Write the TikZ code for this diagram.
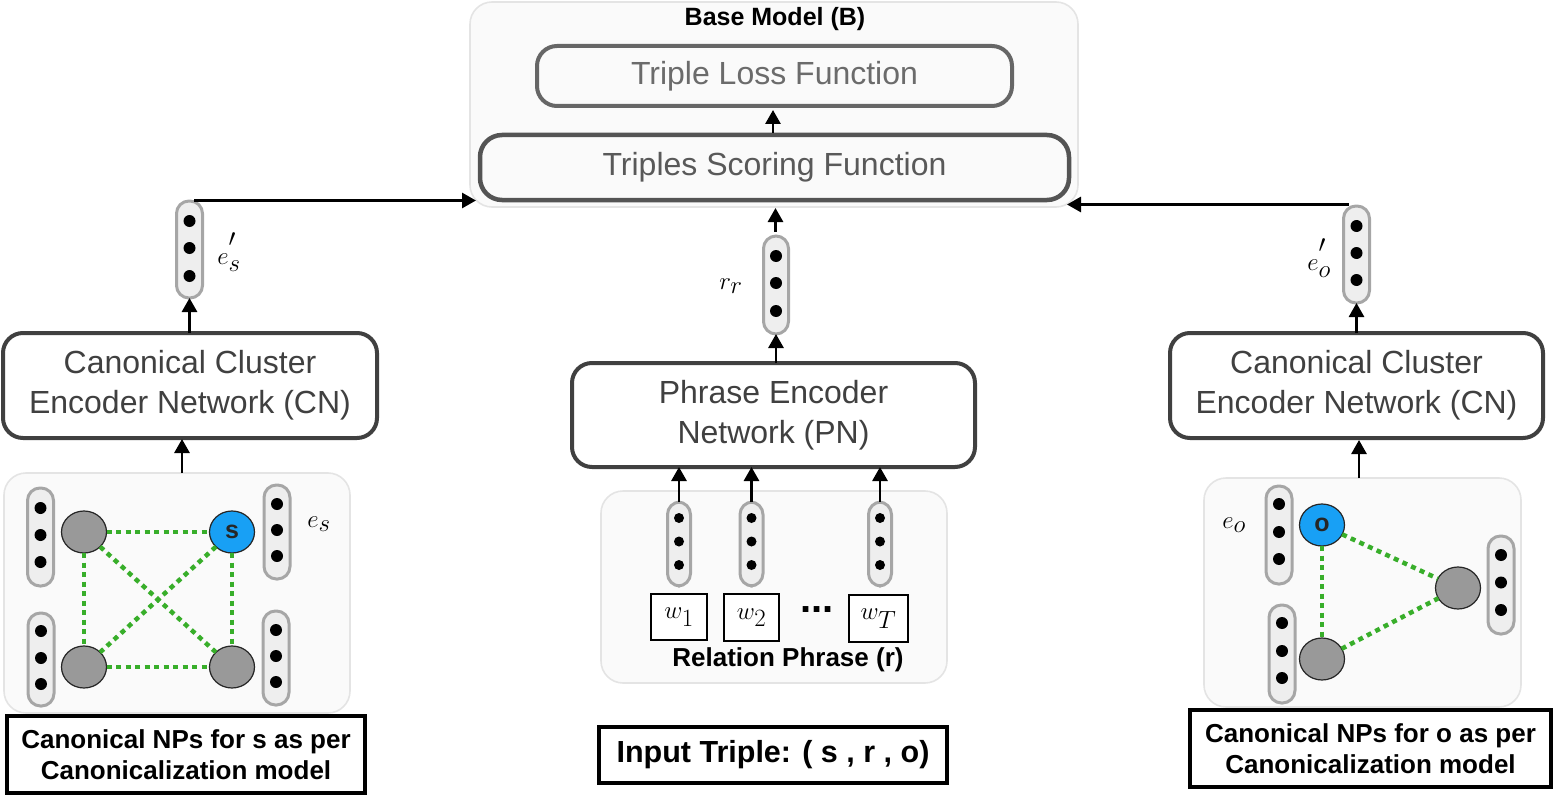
\documentclass[tikz,border=0pt]{standalone}
\usepackage{fontspec}
\setmainfont{Liberation Sans}
\usetikzlibrary{arrows.meta,shapes.geometric}
\definecolor{panelfill}{HTML}{FAFAFA}
\definecolor{paneledge}{HTML}{E4E4E4}
\definecolor{cnedge}{HTML}{404040}
\definecolor{pilledge}{HTML}{A6A6A6}
\definecolor{pillfill}{HTML}{EEEEEE}
\definecolor{linkgreen}{HTML}{38AE2A}
\definecolor{nodegray}{HTML}{999999}
\definecolor{nodeblue}{HTML}{18A0F5}
\tikzset{
  x=1pt,y=-1pt,
  boxbase/.style={draw,rectangle,inner sep=0pt,outer sep=0pt,align=center},
  panel/.style={boxbase,draw=paneledge,fill=panelfill,line width=1.6pt,rounded corners=22pt},
  encoder/.style={boxbase,draw=cnedge,fill=white,line width=4pt,rounded corners=20pt,text=cnedge,font=\fontsize{32}{40}\selectfont},
  lossbox/.style={boxbase,draw=black!60,fill=panelfill,line width=4pt,rounded corners=20pt,text=black!58,font=\fontsize{32}{40}\selectfont},
  scorebox/.style={boxbase,draw=black!67,fill=panelfill,line width=4.5pt,rounded corners=22pt,text=black!65,font=\fontsize{32}{40}\selectfont},
  captionbox/.style={boxbase,draw=black,fill=white,line width=3.2pt,font=\bfseries\fontsize{26}{31}\selectfont},
  wordbox/.style={boxbase,draw=black,fill=white,line width=1.2pt},
  pillshape/.style={boxbase,draw=pilledge,fill=pillfill,line width=3pt,rounded corners=12.5pt},
  dotmark/.style={circle,fill=black,inner sep=0pt,outer sep=0pt},
  entity/.style={ellipse,draw=black!85,line width=1.2pt,inner sep=0pt,outer sep=0pt,minimum width=45pt,minimum height=42pt},
  plainent/.style={entity,fill=nodegray},
  keyent/.style={entity,fill=nodeblue,font=\bfseries\fontsize{25}{30}\selectfont,text=black!85},
  link/.style={draw=linkgreen,line width=4.5pt,dash pattern=on 5pt off 4.5pt},
  flow/.style={draw=black,line width=2.8pt,-{Triangle[width=15pt,length=14pt]}},
  mathlabel/.style={inner sep=0pt,font=\fontsize{48}{56}\selectfont},
  wordlabel/.style={inner sep=0pt,font=\fontsize{40}{48}\selectfont},
  boldlabel/.style={inner sep=0pt,font=\bfseries\fontsize{26}{31}\selectfont}
}
% style, name, x1, y1, x2, y2, text
\newcommand\rectat[7]{\node[#1,minimum width={#5-#3},minimum height={#6-#4}] (#2) at ({(#3+#5)/2},{(#4+#6)/2}) {#7};}
% name, cx, top, bottom, width, dot y1, y2, y3, dot diameter
\newcommand\pillat[9]{%
  \node[pillshape,minimum width=#5,minimum height={#4-#3}] (#1) at (#2,{(#3+#4)/2}) {};
  \node[dotmark,minimum size=#9] (#1-a) at (#2,#6) {};
  \node[dotmark,minimum size=#9] (#1-b) at (#2,#7) {};
  \node[dotmark,minimum size=#9] (#1-c) at (#2,#8) {};
}
\begin{document}
\begin{tikzpicture}
\useasboundingbox (0,0) rectangle (1553,797);
% panels
\rectat{panel}{basepanel}{470}{2}{1078}{207}{}
\rectat{panel}{leftpanel}{4}{473}{350}{713}{}
\rectat{panel}{midpanel}{601}{491}{947}{683}{}
\rectat{panel}{rightpanel}{1204}{478}{1521}{707}{}
% base model
\node[boldlabel,font=\bfseries\fontsize{25}{30}\selectfont] (basetitle) at (775,19) {Base Model (B)};
\rectat{lossbox}{loss}{537}{46}{1012}{106}{Triple Loss Function}
\rectat{scorebox}{score}{480}{135}{1069}{200}{Triples Scoring Function}
% encoders
\rectat{encoder}{cnl}{3}{333}{377}{438}{Canonical Cluster\\Encoder Network (CN)}
\rectat{encoder}{pn}{572}{363}{975}{467}{Phrase Encoder\\Network (PN)}
\rectat{encoder}{cnr}{1170}{333}{1543}{438}{Canonical Cluster\\Encoder Network (CN)}
% output vectors
\pillat{esp}{189.5}{201}{298}{26}{221}{248}{276}{12}
\pillat{rr}{776}{236}{334}{25}{256}{283}{311}{12}
\pillat{eop}{1356.5}{206}{303}{26}{226}{253}{280}{12}
\node[mathlabel] (esplabel) at (229,252) {$e_s^{'}$};
\node[mathlabel] (rrlabel) at (731,286) {$r_r$};
\node[mathlabel] (eoplabel) at (1319,258) {$e_o^{'}$};
% left cluster
\pillat{la}{40.5}{488}{586}{26}{508}{535}{562}{12}
\pillat{lb}{41}{613}{706}{26}{631}{658}{684}{12}
\pillat{lc}{277}{485}{579}{26}{504}{530}{556}{12}
\pillat{ld}{276}{611}{705}{26}{630}{656}{682}{12}
\node[plainent] (ntl) at (84,532) {};
\node[keyent] (ntr) at (232,532) {s};
\node[plainent] (nbl) at (84,667) {};
\node[plainent] (nbr) at (232,667) {};
\draw[link] (ntl) -- (ntr);
\draw[link] (ntl) -- (nbl);
\draw[link] (ntl) -- (nbr);
\draw[link] (ntr) -- (nbl);
\draw[link] (ntr) -- (nbr);
\draw[link] (nbl) -- (nbr);
\node[mathlabel] (eslabel) at (319,524) {$e_s$};
\rectat{captionbox}{capl}{7}{716}{365}{793}{Canonical NPs for s as per\\Canonicalization model}
% relation phrase
\pillat{wa}{679}{502}{586}{23}{518}{541.5}{565}{10}
\pillat{wb}{751.5}{502}{586}{23}{518}{541.5}{565}{10}
\pillat{wc}{880}{502}{586}{23}{518}{541.5}{565}{10}
\rectat{wordbox}{wba}{651}{594}{707}{640}{\fontsize{38}{44}\selectfont$w_1$}
\rectat{wordbox}{wbb}{724}{594}{779}{641}{\fontsize{38}{44}\selectfont$w_2$}
\rectat{wordbox}{wbc}{849}{595}{908}{642}{\fontsize{38}{44}\selectfont$w_T$}
\node[inner sep=0pt,font=\bfseries\fontsize{40}{48}\selectfont] (ell) at (817,610) {...};
\node[boldlabel] (rellabel) at (788,660) {Relation Phrase (r)};
\rectat{captionbox}{capm}{599}{727}{947}{783}{\fontsize{30.5}{36}\selectfont Input Triple: ( s , r , o)}
% right cluster
\pillat{ra}{1279}{486}{584}{26}{504}{532}{559}{12}
\pillat{rb}{1501}{536}{634}{26}{555}{582.5}{610}{12}
\pillat{rc}{1282}{605}{703}{26}{623}{651}{678}{12}
\node[keyent] (no) at (1322,525) {o};
\node[plainent] (nr) at (1458,588) {};
\node[plainent] (nb) at (1322,659) {};
\draw[link] (no) -- (nr);
\draw[link] (no) -- (nb);
\draw[link] (nb) -- (nr);
\node[mathlabel] (eolabel) at (1234,525) {$e_o$};
\rectat{captionbox}{capr}{1190}{710}{1551}{787}{Canonical NPs for o as per\\Canonicalization model}
% connectors
\coordinate (fa) at (182,473);
\coordinate (fb) at (182,439);
\coordinate (fc) at (1359,478);
\coordinate (fd) at (1359,440);
\coordinate (fe) at (194,200.5);
\coordinate (ff) at (476,200.5);
\coordinate (fg) at (1349,204.5);
\coordinate (fh) at (1067,204.5);
\coordinate (fi) at (773,133);
\coordinate (fj) at (773,110);
\coordinate (fk) at (775.5,232);
\coordinate (fl) at (775.5,208);
\draw[flow] (fa) -- (fb);
\draw[flow] (fc) -- (fd);
\draw[flow] (fe) -- (ff);
\draw[flow] (fg) -- (fh);
\draw[flow] (fi) -- (fj);
\draw[flow] (fk) -- (fl);
\draw[flow] (cnl.north -| esp.south) -- (esp.south);
\draw[flow] (cnr.north -| eop.south) -- (eop.south);
\draw[flow] (pn.north -| rr.south) -- (rr.south);
\draw[flow] (wa.north) -- (wa.north |- pn.south);
\draw[flow] (wb.north) -- (wb.north |- pn.south);
\draw[flow] (wc.north) -- (wc.north |- pn.south);
\end{tikzpicture}
\end{document}
